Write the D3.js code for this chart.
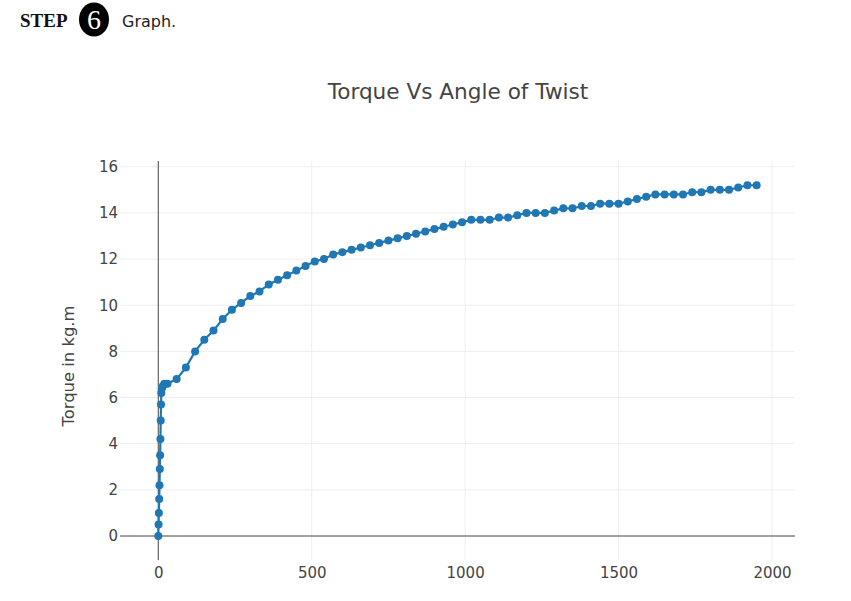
<!DOCTYPE html>
<html>
<head>
<meta charset="utf-8">
<script src="https://cdn.jsdelivr.net/npm/d3@7"></script>
<style>
  body { margin: 0; background: #fff; }
  .tick text { font-family: "DejaVu Sans", Verdana, sans-serif; font-size: 15px; fill: #444; }
</style>
</head>
<body>
<div id="chart"></div>
<script>
// angle of twist (degrees) and torque (kg.m)
const angles = [0, 1, 2, 3, 4, 5, 6, 7, 8, 9, 10, 12, 15, 20, 30,
  60, 90, 120, 150, 180, 210, 240, 270, 300, 330, 360, 390, 420, 450, 480, 510, 540, 570,
  600, 630, 660, 690, 720, 750, 780, 810, 840, 870, 900, 930, 960, 990, 1020, 1050, 1080, 1110, 1140, 1170, 1200, 1230, 1260, 1290,
  1320, 1350, 1380, 1410, 1440, 1470, 1500, 1530, 1560, 1590, 1620, 1650, 1680, 1710, 1740, 1770, 1800, 1830, 1860, 1890, 1920, 1950];
const torque = [0, 0.5, 1.0, 1.6, 2.2, 2.9, 3.5, 4.2, 5.0, 5.7, 6.2, 6.4, 6.5, 6.6, 6.6,
  6.8, 7.3, 8.0, 8.5, 8.9, 9.4, 9.8, 10.1, 10.4, 10.6, 10.9, 11.1, 11.3, 11.5, 11.7, 11.9, 12.0, 12.2,
  12.3, 12.4, 12.5, 12.6, 12.7, 12.8, 12.9, 13.0, 13.1, 13.2, 13.3, 13.4, 13.5, 13.6, 13.7, 13.7, 13.7, 13.8, 13.8, 13.9, 14.0, 14.0, 14.0, 14.1,
  14.2, 14.2, 14.3, 14.3, 14.4, 14.4, 14.4, 14.5, 14.6, 14.7, 14.8, 14.8, 14.8, 14.8, 14.9, 14.9, 15.0, 15.0, 15.0, 15.1, 15.2, 15.2];
const xTicks = [0, 500, 1000, 1500, 2000];
const yTicks = [0, 2, 4, 6, 8, 10, 12, 14, 16];

const W = 851, H = 601;
const plot = { left: 120, right: 795, top: 161, bottom: 560 };

const svg = d3.select("#chart").append("svg")
    .attr("width", W)
    .attr("height", H);

// header line
svg.append("text")
    .attr("x", 20).attr("y", 27)
    .style("font-family", "'Liberation Serif', 'Times New Roman', serif")
    .style("font-weight", "bold")
    .style("font-size", "19px")
    .attr("fill", "#111")
    .text("STEP");
svg.append("ellipse")
    .attr("cx", 94).attr("cy", 19.5)
    .attr("rx", 15).attr("ry", 17)
    .attr("fill", "#000");
svg.append("text")
    .attr("x", 94).attr("y", 29)
    .attr("text-anchor", "middle")
    .style("font-family", "'Liberation Serif', serif")
    .style("font-size", "28px")
    .attr("fill", "#fff")
    .text("6");
svg.append("text")
    .attr("x", 122).attr("y", 27)
    .style("font-family", "'DejaVu Sans', Verdana, sans-serif")
    .style("font-size", "16px")
    .attr("fill", "#222")
    .text("Graph.");

const x = d3.scaleLinear()
    .domain([-124.7, 2075])
    .range([plot.left, plot.right]);
const y = d3.scaleLinear()
    .domain([-1.04, 16.25])
    .range([plot.bottom, plot.top]);

// grid
const grid = svg.append("g");
grid.selectAll(".gy")
    .data(yTicks.filter(d => d !== 0))
    .join("line")
    .attr("x1", plot.left).attr("x2", plot.right)
    .attr("y1", d => y(d)).attr("y2", d => y(d))
    .attr("stroke", "#eee").attr("stroke-width", 1);
grid.selectAll(".gx")
    .data(xTicks.filter(d => d !== 0))
    .join("line")
    .attr("x1", d => x(d)).attr("x2", d => x(d))
    .attr("y1", plot.top).attr("y2", plot.bottom)
    .attr("stroke", "#eee").attr("stroke-width", 1);

// zero lines
svg.append("line")
    .attr("x1", plot.left).attr("x2", plot.right)
    .attr("y1", y(0)).attr("y2", y(0))
    .attr("stroke", "#444").attr("stroke-width", 1);
svg.append("line")
    .attr("x1", x(0)).attr("x2", x(0))
    .attr("y1", plot.top).attr("y2", plot.bottom)
    .attr("stroke", "#444").attr("stroke-width", 1);

// axes (labels only)
const xAxis = svg.append("g")
    .attr("transform", `translate(0,${plot.bottom})`)
    .call(d3.axisBottom(x).tickValues(xTicks).tickFormat(d3.format("d")).tickSize(0).tickPadding(7));
const yAxis = svg.append("g")
    .attr("transform", `translate(${plot.left},0)`)
    .call(d3.axisLeft(y).tickValues(yTicks).tickSize(0).tickPadding(2));
xAxis.select(".domain").remove();
yAxis.select(".domain").remove();

// series
const pts = angles.map((a, i) => ({ a: a, t: torque[i] }));
svg.append("clipPath").attr("id", "clip")
    .append("rect")
    .attr("x", plot.left).attr("y", plot.top)
    .attr("width", plot.right - plot.left).attr("height", plot.bottom - plot.top);
const series = svg.append("g").attr("clip-path", "url(#clip)");
series.append("path")
    .datum(pts)
    .attr("fill", "none")
    .attr("stroke", "#1f77b4")
    .attr("stroke-width", 2.2)
    .attr("d", d3.line().x(d => x(d.a)).y(d => y(d.t)));
series.selectAll("circle")
    .data(pts)
    .join("circle")
    .attr("cx", d => x(d.a))
    .attr("cy", d => y(d.t))
    .attr("r", 4)
    .attr("fill", "#1f77b4");

// titles
svg.append("text")
    .attr("x", 458).attr("y", 98.5)
    .attr("text-anchor", "middle")
    .style("font-family", "'DejaVu Sans', Verdana, sans-serif")
    .style("font-size", "21.6px")
    .attr("fill", "#444")
    .text("Torque Vs Angle of Twist");
svg.append("text")
    .attr("transform", "translate(74,366) rotate(-90)")
    .attr("text-anchor", "middle")
    .style("font-family", "'DejaVu Sans', Verdana, sans-serif")
    .style("font-size", "16.4px")
    .attr("fill", "#444")
    .text("Torque in kg.m");
</script>
</body>
</html>
